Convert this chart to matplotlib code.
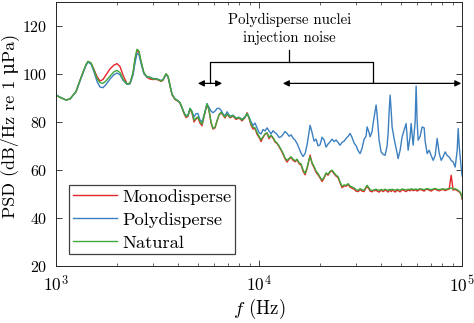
import matplotlib
matplotlib.use("Agg")
import matplotlib.pyplot as plt

plt.rcParams['font.family'] = ['cmr10', 'DejaVu Serif']
plt.rcParams['mathtext.fontset'] = 'cm'
plt.rcParams['axes.formatter.use_mathtext'] = True

# frequency grid (Hz)
freq = [1000, 1046, 1120, 1172, 1254, 1343, 1405, 1438, 1490, 1539,
        1593, 1647, 1704, 1763, 1845, 1930, 1998, 2067, 2139, 2238,
        2316, 2396, 2450, 2506, 2563, 2621, 2711, 2808, 2904, 3004,
        3107, 3214, 3288, 3366, 3483, 3563, 3646, 3728, 3855, 3988,
        4080, 4174, 4271, 4369, 4470, 4571, 4677, 4785, 4895, 5000,
        5120, 5240, 5360, 5544, 5670, 5802, 5935, 6072, 6210, 6354,
        6500, 6650, 6802, 6959, 7196, 7448, 7704, 7972, 8246, 8532,
        8728, 8930, 9134, 9344, 9559, 9778, 10000, 10230, 10460, 10700,
        10950, 11200, 11460, 11720, 11990, 12270, 12550, 12840, 13130, 13430,
        13740, 14060, 14380, 14710, 15050, 15390, 15740, 16110, 16470, 16850,
        17240, 17640, 17840, 18250, 18660, 19090, 19530, 19980, 20430, 20910,
        21380, 21870, 22380, 22890, 23420, 23960, 24510, 25060, 25640, 26230,
        26830, 27450, 28070, 28720, 29380, 30060, 30750, 31440, 32160, 32900,
        33650, 34040, 34830, 35230, 36030, 36440, 37280, 37700, 38130, 39000,
        39900, 40810, 41750, 42700, 43200, 43690, 44190, 44700, 45200, 46250,
        46770, 47840, 48380, 49500, 50630, 51800, 52990, 54200, 55450, 56080,
        57370, 58690, 59350, 60040, 60720, 62120, 63540, 65000, 65740, 67250,
        68800, 70380, 71990, 73640, 75330, 77070, 78840, 80650, 82500, 84400,
        86300, 88300, 90300, 92400, 94500, 95600, 96700, 97800, 98900, 100000]

mono = [91.1, 90.2, 89.1, 89.5, 92.5, 99.4, 103.6, 105.0, 104.3, 101.8,
        98.8, 97.0, 97.6, 99.5, 102.0, 103.6, 104.2, 103.0, 99.5, 95.8,
        96.0, 100.0, 105.5, 109.5, 109.0, 105.0, 100.2, 98.5, 97.8, 97.6,
        97.7, 97.3, 96.8, 97.3, 99.8, 98.8, 94.8, 91.3, 89.3, 88.6,
        87.8, 85.8, 83.5, 81.8, 82.3, 85.4, 83.6, 80.0, 81.2, 81.8,
        79.5, 78.4, 82.2, 87.4, 84.8, 79.6, 77.0, 77.5, 80.3, 82.8,
        83.8, 82.8, 81.6, 83.2, 81.7, 82.4, 81.0, 81.6, 80.4, 81.8,
        83.8, 81.5, 78.6, 77.0, 77.2, 74.8, 73.6, 71.8, 73.5, 74.8,
        75.3, 73.0, 74.3, 73.2, 71.6, 71.0, 69.6, 68.2, 66.5, 64.6,
        63.3, 64.5, 65.2, 64.0, 63.4, 64.2, 62.6, 62.0, 59.5, 58.0,
        60.6, 64.2, 66.2, 62.6, 61.0, 59.0, 58.0, 56.6, 55.2, 56.6,
        58.5, 57.8, 59.2, 59.6, 58.4, 57.4, 56.8, 54.6, 52.6, 53.4,
        53.2, 54.0, 52.8, 52.4, 52.0, 51.2, 51.0, 51.8, 51.2, 51.0,
        52.6, 53.2, 52.0, 51.2, 50.9, 51.4, 51.4, 51.6, 51.2, 50.8,
        51.6, 51.0, 51.6, 51.2, 50.8, 51.4, 51.6, 51.0, 51.6, 51.2,
        50.8, 51.6, 51.4, 50.9, 51.8, 51.4, 51.0, 51.7, 51.3, 51.9,
        51.4, 51.6, 51.8, 51.2, 51.5, 51.9, 51.6, 51.2, 51.7, 52.0,
        51.6, 51.2, 51.8, 52.0, 51.6, 51.3, 51.7, 51.9, 51.4, 51.8,
        52.0, 57.8, 51.6, 51.9, 51.4, 51.2, 50.8, 50.5, 49.6, 47.8]

poly = [91.3, 90.3, 89.1, 89.5, 92.4, 99.2, 103.4, 104.9, 104.0, 100.8,
        96.8, 94.5, 94.2, 95.5, 97.8, 99.6, 100.3, 99.6, 97.3, 95.6,
        95.8, 99.5, 104.5, 108.4, 108.0, 104.5, 100.0, 98.6, 98.6, 98.0,
        98.0, 97.6, 97.2, 97.6, 99.8, 98.8, 95.0, 91.5, 89.6, 88.8,
        88.0, 86.0, 83.8, 82.6, 82.8, 85.6, 84.4, 82.0, 83.4, 83.5,
        80.8, 80.0, 82.8, 87.5, 86.0, 84.5, 83.8, 84.5, 85.5, 85.7,
        84.8, 83.3, 82.5, 84.2, 82.3, 82.8, 81.6, 81.9, 81.0, 82.2,
        83.4, 82.0, 80.0, 78.5, 79.5, 77.5, 75.5, 75.0, 76.8, 76.2,
        77.5, 76.2, 75.0, 76.3, 75.5, 74.8, 73.5, 73.8, 74.8, 76.0,
        75.2, 74.0, 74.6, 73.2, 72.4, 71.0, 69.0, 67.0, 65.6, 66.8,
        70.5, 76.0, 78.6, 75.5, 72.0, 72.8, 70.0, 70.5, 73.6, 72.5,
        69.5, 70.8, 71.7, 72.8, 71.8, 72.5, 71.4, 70.3, 71.5, 72.0,
        73.1, 74.0, 75.2, 73.5, 71.2, 70.0, 68.0, 66.8, 69.0, 72.8,
        74.0, 77.9, 75.5, 73.8, 76.0, 79.3, 84.5, 87.0, 83.0, 72.4,
        67.5, 66.5, 66.1, 70.0, 75.3, 84.0, 91.1, 85.0, 77.9, 73.0,
        71.0, 67.0, 64.7, 68.2, 73.8, 76.5, 79.3, 68.2, 74.0, 79.3,
        70.3, 80.0, 94.9, 80.0, 72.4, 74.0, 77.9, 77.5, 72.0, 66.8,
        68.2, 66.0, 64.0, 66.0, 73.1, 67.0, 64.0, 65.5, 67.5, 66.0,
        65.4, 64.0, 63.3, 61.2, 68.0, 77.2, 70.0, 65.4, 61.0, 57.5]

natural = [91.1, 90.2, 89.1, 89.5, 92.5, 99.5, 103.8, 105.2, 104.5, 101.5,
           98.0, 96.3, 96.0, 97.0, 99.0, 100.8, 101.4, 100.5, 97.8, 95.7,
           96.2, 100.5, 106.5, 110.2, 109.5, 105.5, 100.5, 98.8, 98.5, 97.8,
           97.9, 97.5, 97.0, 97.5, 100.0, 99.0, 95.0, 91.5, 89.5, 88.8,
           88.0, 86.0, 83.8, 82.3, 82.5, 85.6, 84.0, 80.7, 81.5, 82.1,
           80.2, 79.0, 82.5, 87.5, 85.0, 80.0, 77.3, 77.8, 80.5, 83.0,
           84.0, 83.0, 82.0, 83.3, 82.0, 82.6, 81.4, 81.8, 80.8, 82.0,
           83.5, 81.8, 79.0, 77.8, 77.5, 75.5, 74.0, 72.6, 73.8, 75.0,
           75.5, 73.5, 74.5, 73.5, 72.0, 71.2, 70.0, 68.5, 67.0, 65.0,
           64.0, 64.8, 65.5, 64.5, 63.8, 64.5, 63.0, 62.5, 60.0, 58.6,
           61.0, 64.5, 65.5, 63.0, 61.5, 59.5, 58.5, 57.0, 55.8, 57.0,
           58.8, 58.2, 59.5, 59.9, 58.8, 57.8, 57.2, 55.0, 53.2, 53.8,
           53.6, 54.3, 53.3, 52.9, 52.5, 51.8, 51.5, 52.2, 51.8, 51.5,
           53.0, 53.6, 52.5, 51.8, 51.5, 51.6, 51.9, 52.0, 51.8, 51.5,
           51.9, 51.6, 52.0, 51.7, 51.5, 51.8, 51.9, 51.6, 52.0, 51.7,
           51.5, 52.0, 51.8, 51.6, 52.1, 51.9, 51.7, 52.0, 51.8, 52.2,
           51.9, 52.0, 52.1, 51.8, 51.9, 52.2, 52.0, 51.8, 52.0, 52.3,
           52.0, 51.8, 52.1, 52.3, 52.0, 51.8, 52.0, 52.2, 51.9, 52.1,
           52.3, 52.5, 52.0, 52.2, 51.8, 51.5, 51.2, 50.8, 50.0, 48.2]

labels = ['Monodisperse', 'Polydisperse', 'Natural']
colors = ['#e3262b', '#3d80c0', '#3fa83c']

fig = plt.figure(figsize=(4.74, 3.23), dpi=100)
ax = fig.add_axes([0.118, 0.176, 0.857, 0.819])

for y, lab, c in zip([mono, poly, natural], labels, colors):
    ax.plot(freq, y, color=c, lw=1.0, label=lab)

ax.set_xscale('log')
ax.set_xlim(1e3, 1e5)
ax.set_ylim(20, 130)
ax.set_yticks([20, 40, 60, 80, 100, 120])
ax.tick_params(which='both', direction='in', top=True, right=True,
               colors='0.15', labelcolor='k')
ax.tick_params(axis='y', labelsize=11.5)
ax.tick_params(axis='x', labelsize=12.5)
ax.tick_params(which='major', length=4, width=0.6, pad=6)
ax.tick_params(which='minor', length=2.5, width=0.5)
for s in ax.spines.values():
    s.set_color('0.15')
    s.set_linewidth(0.7)

ax.set_xlabel(r'$f$ (Hz)', fontsize=13.5, labelpad=1)
ax.set_ylabel('PSD (dB/Hz re 1 μPa)', fontsize=13)
ax.yaxis.set_label_coords(-0.092, 0.53)

# bracket + arrows for the noise region
ax.plot([5740, 5740, 36400, 36400], [96, 105, 105, 96], color='k', lw=0.9)
ax.plot([14070, 14070], [105, 110], color='k', lw=0.9)
arr = dict(arrowstyle='<|-|>', color='k', lw=0.9, mutation_scale=9,
           shrinkA=0, shrinkB=0)
ax.annotate('', xy=(5000, 96), xytext=(6580, 96), arrowprops=arr)
ax.annotate('', xy=(13100, 96), xytext=(99000, 96), arrowprops=arr)
ax.text(14100, 118.6, 'Polydisperse nuclei\ninjection noise', ha='center',
        va='center', fontsize=10.7, linespacing=1.3)

leg = ax.legend(loc='lower left', bbox_to_anchor=(0.032, 0.045),
                borderaxespad=0, fontsize=13.3, handlelength=2.4,
                fancybox=False, framealpha=1, borderpad=0.2,
                labelspacing=0.38, handletextpad=0.3)
leg.get_frame().set_edgecolor('0.25')
leg.get_frame().set_linewidth(0.9)

fig.savefig('out.png', dpi=100)
